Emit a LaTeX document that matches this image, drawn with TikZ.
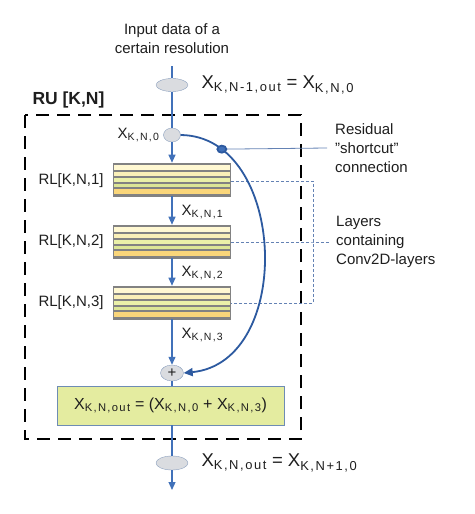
\documentclass[tikz,border=0pt]{standalone}
\usepackage{fontspec}
\setmainfont{Liberation Sans}
\usetikzlibrary{arrows.meta,shapes.geometric}
\definecolor{texte}{RGB}{30,30,30}
\definecolor{bleu}{RGB}{65,113,185}
\definecolor{bleufonce}{RGB}{45,90,160}
\definecolor{grisfond}{RGB}{218,220,224}
\definecolor{grisbord}{RGB}{140,160,190}
\definecolor{grisraie}{RGB}{130,130,130}
\definecolor{raieA}{RGB}{255,248,210}
\definecolor{raieB}{RGB}{250,240,184}
\definecolor{raieC}{RGB}{234,240,168}
\definecolor{raieD}{RGB}{220,230,150}
\definecolor{raieE}{RGB}{250,214,122}
\definecolor{vert}{RGB}{228,236,160}
\definecolor{bordvert}{RGB}{110,140,180}
\definecolor{tiret}{RGB}{100,130,180}
\newcommand{\xk}[1]{X\textsubscript{\addfontfeature{LetterSpace=12}#1}}

\begin{document}
\begin{tikzpicture}[x=1pt, y=-1pt, font=\fontsize{15}{19}\selectfont, text=texte]
\tikzset{oval/.style={draw=grisbord, fill=grisfond, ellipse, inner sep=0pt, minimum width=32pt, minimum height=13pt},
  fleche/.style={draw=bleu, line width=1.2pt, -{Triangle[length=8pt,width=7pt]}},
  trait/.style={draw=bleu, line width=1.2pt},
  courbe/.style={draw=bleufonce, line width=1.8pt, -{Triangle[length=9pt,width=8pt]}},
  pointille/.style={draw=tiret, line width=0.7pt, dash pattern=on 3pt off 2pt},
  fin/.style={draw=tiret, line width=0.8pt},
  point/.style={draw=bleufonce, fill=bleu, ellipse, inner sep=0pt, minimum width=9pt, minimum height=7pt},
  cadre/.style={draw=black, line width=2.2pt, dash pattern=on 13pt off 8pt},
  grand/.style={font=\fontsize{18.5}{21}\selectfont},
  layerbox/.style={draw=grisraie, line width=0.6pt, fill=grisraie, minimum width=117pt, minimum height=33pt, inner sep=0pt,
    path picture={
      \fill[raieA] ([yshift=-1.5pt]path picture bounding box.north west) rectangle ([yshift=-7pt]path picture bounding box.north east);
      \fill[raieB] ([yshift=-9pt]path picture bounding box.north west) rectangle ([yshift=-13pt]path picture bounding box.north east);
      \fill[raieC] ([yshift=-15pt]path picture bounding box.north west) rectangle ([yshift=-19pt]path picture bounding box.north east);
      \fill[raieD] ([yshift=-21pt]path picture bounding box.north west) rectangle ([yshift=-24pt]path picture bounding box.north east);
      \fill[raieE] ([yshift=-26pt]path picture bounding box.north west) rectangle ([yshift=-30.5pt]path picture bounding box.north east);
    }}}
\useasboundingbox (0,0) rectangle (474,514);

\node[align=center] (IN) at (172,39) {Input data of a\\certain resolution};
\coordinate (T) at (172,66);
\node[oval] (E1) at (172,85) {};
\node[grand, anchor=west] (LE1) at (198,85) {\xk{K,N-1,out} = \xk{K,N,0}};

\draw[cadre] (25,115) rectangle (301,439);
\node[anchor=west, font=\bfseries\fontsize{17.5}{20}\selectfont] (RU) at (29,100) {RU [K,N]};

\node[oval, minimum width=17pt, minimum height=14pt] (C0) at (172,135) {};
\node[anchor=east] (LC0) at (163,135) {\xk{K,N,0}};

\node[layerbox] (L1) at (172,179.5) {};
\node[layerbox] (L2) at (172,241.5) {};
\node[layerbox] (L3) at (172,302.5) {};
\node[anchor=west] (RL1) at (35,181) {RL[K,N,1]};
\node[anchor=west] (RL2) at (35,242) {RL[K,N,2]};
\node[anchor=west] (RL3) at (35,303) {RL[K,N,3]};
\node[anchor=west] (X1) at (178,212) {\xk{K,N,1}};
\node[anchor=west] (X2) at (178,273) {\xk{K,N,2}};
\node[anchor=west] (X3) at (178,335) {\xk{K,N,3}};

\node[oval, minimum width=23pt, minimum height=16pt] (P) at (172,373) {+};
\node[draw=bordvert, fill=vert, line width=0.8pt, minimum width=227pt, minimum height=39pt, font=\fontsize{16}{19}\selectfont] (O) at (170.5,405.5) {\xk{K,N,out} = (\xk{K,N,0} + \xk{K,N,3})};
\node[oval, minimum height=14pt] (E2) at (172,463) {};
\node[grand, anchor=west] (LE2) at (198,463) {\xk{K,N,out} = \xk{K,N+1,0}};
\coordinate (B) at (172,490);

\node[anchor=west, align=left, inner xsep=8pt] (R) at (327,148) {Residual\\"shortcut"\\connection};
\node[anchor=west, align=left, inner xsep=6pt] (LY) at (330,242) {Layers\\containing\\Conv2D-layers};
\coordinate (J1) at (313,181);
\coordinate (J2) at (313,242);
\coordinate (J3) at (313,303);

\draw[trait] (T) -- (E1);
\draw[trait] (E1) -- (C0);
\draw[fleche] (C0) -- (L1);
\draw[fleche] (L1) -- (L2);
\draw[fleche] (L2) -- (L3);
\draw[fleche] (L3) -- (P);
\draw[trait] (P) -- (P |- O.north);
\draw[trait] (E2 |- O.south) -- (E2);
\draw[fleche] (E2) -- (B);

\draw[pointille] (L1.east |- J1) -- (J1) -- (J3) -- (L3.east |- J3);
\draw[pointille] (L2.east |- J2) -- (J2) -- (LY.west);

\draw[courbe] (C0.east) .. controls (287,136) and (295,362) .. (P.east) node[pos=0.15, point] (D) {};
\draw[fin] (D) -- (R.west);
\end{tikzpicture}
\end{document}
